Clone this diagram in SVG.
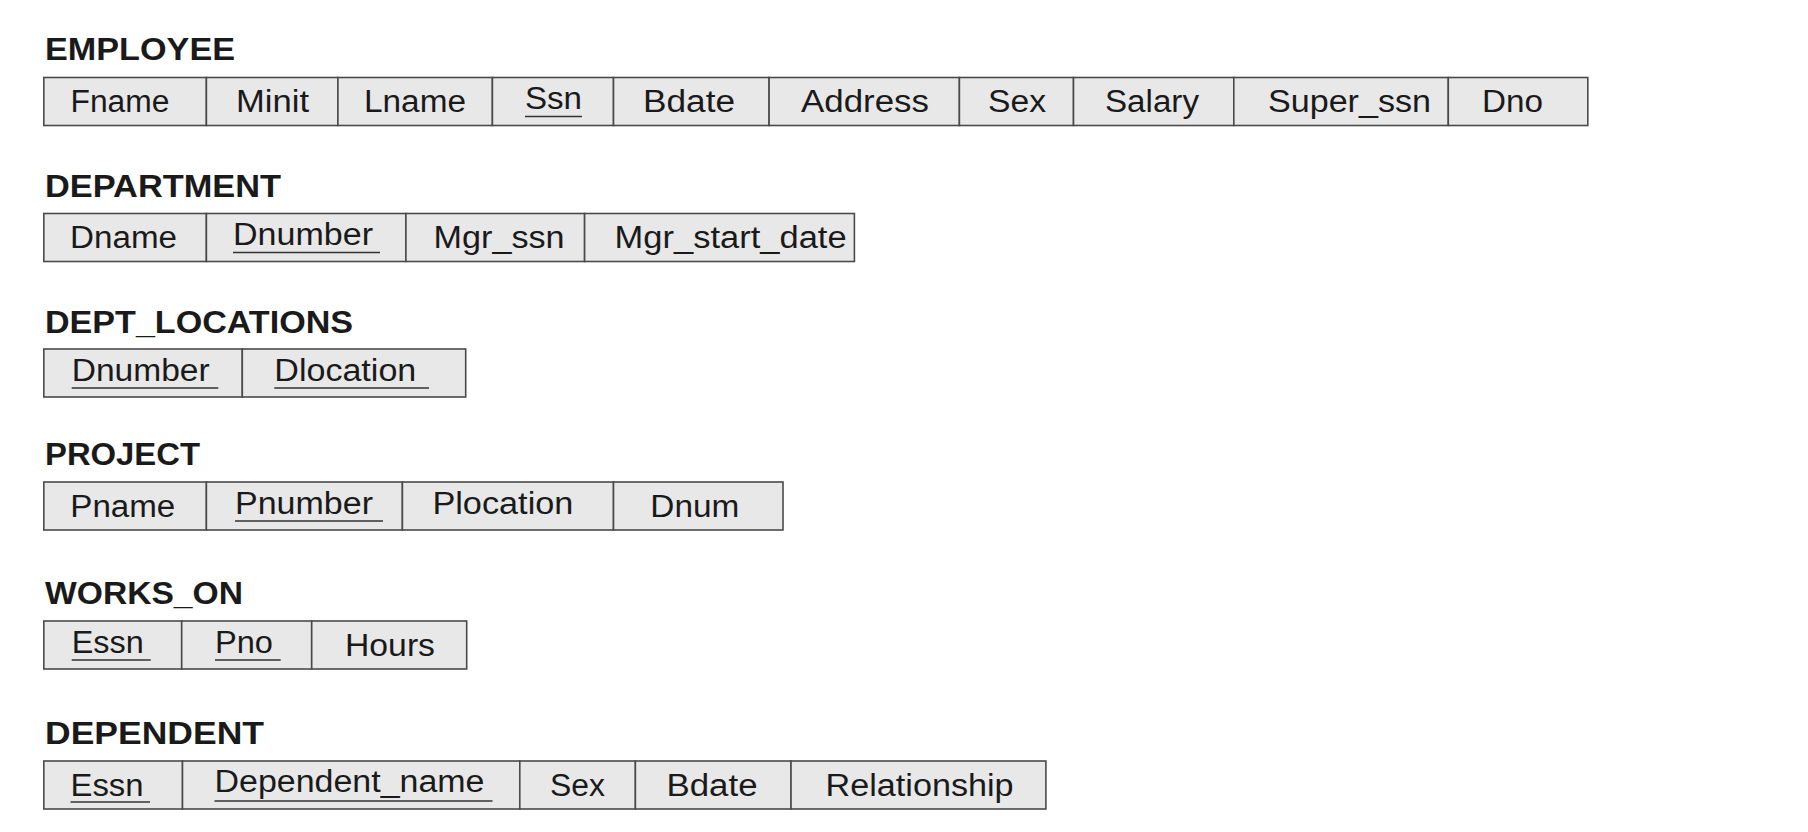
<svg xmlns="http://www.w3.org/2000/svg" width="1808" height="832" viewBox="0 0 1808 832">
<style>
.bg{fill:#ffffff}
.title{font-family:"Liberation Sans",Arial,sans-serif;font-weight:bold;font-size:31px;fill:#1a1a1a}
.cell{fill:#e8e8e8;stroke:#4a4a4a;stroke-width:1.6}
.f{font-family:"Liberation Sans",Arial,sans-serif;font-size:31px;fill:#1a1a1a}
.ul{stroke:#333;stroke-width:1.6}
</style>
<rect class="bg" x="0" y="0" width="1808" height="832"/>

<g id="employee">
<text class="title" x="45" y="60" textLength="190" lengthAdjust="spacingAndGlyphs">EMPLOYEE</text>
<rect class="cell" x="43.8" y="77.5" width="162.6" height="48"/>
<rect class="cell" x="206.4" y="77.5" width="131.5" height="48"/>
<rect class="cell" x="337.9" y="77.5" width="154.5" height="48"/>
<rect class="cell" x="492.4" y="77.5" width="121.1" height="48"/>
<rect class="cell" x="613.5" y="77.5" width="155.6" height="48"/>
<rect class="cell" x="769.1" y="77.5" width="190.3" height="48"/>
<rect class="cell" x="959.4" y="77.5" width="114.1" height="48"/>
<rect class="cell" x="1073.5" y="77.5" width="160.3" height="48"/>
<rect class="cell" x="1233.8" y="77.5" width="214.5" height="48"/>
<rect class="cell" x="1448.3" y="77.5" width="139.5" height="48"/>
<text class="f" x="70.5" y="112" textLength="99" lengthAdjust="spacingAndGlyphs">Fname</text>
<text class="f" x="236" y="112" textLength="73" lengthAdjust="spacingAndGlyphs">Minit</text>
<text class="f" x="364" y="112" textLength="102" lengthAdjust="spacingAndGlyphs">Lname</text>
<text class="f" x="525" y="109" textLength="57" lengthAdjust="spacingAndGlyphs">Ssn</text>
<line class="ul" x1="525" y1="116.5" x2="582" y2="116.5"/>
<text class="f" x="643" y="112" textLength="92" lengthAdjust="spacingAndGlyphs">Bdate</text>
<text class="f" x="801" y="112" textLength="128" lengthAdjust="spacingAndGlyphs">Address</text>
<text class="f" x="988" y="112" textLength="58" lengthAdjust="spacingAndGlyphs">Sex</text>
<text class="f" x="1105" y="112" textLength="94" lengthAdjust="spacingAndGlyphs">Salary</text>
<text class="f" x="1268" y="112" textLength="163" lengthAdjust="spacingAndGlyphs">Super_ssn</text>
<text class="f" x="1482" y="112" textLength="61" lengthAdjust="spacingAndGlyphs">Dno</text>
</g>

<g id="department">
<text class="title" x="45" y="196.5" textLength="236" lengthAdjust="spacingAndGlyphs">DEPARTMENT</text>
<rect class="cell" x="43.8" y="213.5" width="162.6" height="48"/>
<rect class="cell" x="206.4" y="213.5" width="199.5" height="48"/>
<rect class="cell" x="405.9" y="213.5" width="178.7" height="48"/>
<rect class="cell" x="584.6" y="213.5" width="269.8" height="48"/>
<text class="f" x="70" y="248" textLength="107" lengthAdjust="spacingAndGlyphs">Dname</text>
<text class="f" x="233" y="245" textLength="140" lengthAdjust="spacingAndGlyphs">Dnumber</text>
<line class="ul" x1="233" y1="252.5" x2="380" y2="252.5"/>
<text class="f" x="433.6" y="248" textLength="131" lengthAdjust="spacingAndGlyphs">Mgr_ssn</text>
<text class="f" x="614.6" y="248" textLength="232" lengthAdjust="spacingAndGlyphs">Mgr_start_date</text>
</g>

<g id="dept_locations">
<text class="title" x="45" y="332.5" textLength="308" lengthAdjust="spacingAndGlyphs">DEPT_LOCATIONS</text>
<rect class="cell" x="43.8" y="349" width="198.5" height="48"/>
<rect class="cell" x="242.3" y="349" width="223.4" height="48"/>
<text class="f" x="71.7" y="381" textLength="138" lengthAdjust="spacingAndGlyphs">Dnumber</text>
<line class="ul" x1="71.7" y1="388" x2="218.3" y2="388"/>
<text class="f" x="274.3" y="381" textLength="142" lengthAdjust="spacingAndGlyphs">Dlocation</text>
<line class="ul" x1="274.3" y1="388" x2="429" y2="388"/>
</g>

<g id="project">
<text class="title" x="45" y="465" textLength="155" lengthAdjust="spacingAndGlyphs">PROJECT</text>
<rect class="cell" x="43.8" y="482" width="162.6" height="48"/>
<rect class="cell" x="206.4" y="482" width="196" height="48"/>
<rect class="cell" x="402.4" y="482" width="211.1" height="48"/>
<rect class="cell" x="613.5" y="482" width="169.5" height="48"/>
<text class="f" x="70.3" y="516.5" textLength="105" lengthAdjust="spacingAndGlyphs">Pname</text>
<text class="f" x="235" y="513.5" textLength="138" lengthAdjust="spacingAndGlyphs">Pnumber</text>
<line class="ul" x1="235" y1="521" x2="383" y2="521"/>
<text class="f" x="432.4" y="513.5" textLength="141" lengthAdjust="spacingAndGlyphs">Plocation</text>
<text class="f" x="650.3" y="516.5" textLength="89" lengthAdjust="spacingAndGlyphs">Dnum</text>
</g>

<g id="works_on">
<text class="title" x="45" y="604" textLength="198" lengthAdjust="spacingAndGlyphs">WORKS_ON</text>
<rect class="cell" x="43.8" y="621" width="137.9" height="48"/>
<rect class="cell" x="181.7" y="621" width="130" height="48"/>
<rect class="cell" x="311.7" y="621" width="155" height="48"/>
<text class="f" x="71.7" y="652.5" textLength="72" lengthAdjust="spacingAndGlyphs">Essn</text>
<line class="ul" x1="71.7" y1="660" x2="150.7" y2="660"/>
<text class="f" x="215" y="652.5" textLength="58" lengthAdjust="spacingAndGlyphs">Pno</text>
<line class="ul" x1="215" y1="660" x2="280.7" y2="660"/>
<text class="f" x="345" y="655.5" textLength="90" lengthAdjust="spacingAndGlyphs">Hours</text>
</g>

<g id="dependent">
<text class="title" x="45" y="744" textLength="219" lengthAdjust="spacingAndGlyphs">DEPENDENT</text>
<rect class="cell" x="43.8" y="761" width="138.7" height="48"/>
<rect class="cell" x="182.5" y="761" width="337.3" height="48"/>
<rect class="cell" x="519.8" y="761" width="115.6" height="48"/>
<rect class="cell" x="635.4" y="761" width="155.6" height="48"/>
<rect class="cell" x="791" y="761" width="254.9" height="48"/>
<text class="f" x="70.5" y="796" textLength="73" lengthAdjust="spacingAndGlyphs">Essn</text>
<line class="ul" x1="70.5" y1="802" x2="150" y2="802"/>
<text class="f" x="214.5" y="792" textLength="270" lengthAdjust="spacingAndGlyphs">Dependent_name</text>
<line class="ul" x1="214.5" y1="801" x2="492.5" y2="801"/>
<text class="f" x="550" y="796" textLength="55" lengthAdjust="spacingAndGlyphs">Sex</text>
<text class="f" x="666.5" y="796" textLength="91" lengthAdjust="spacingAndGlyphs">Bdate</text>
<text class="f" x="825.6" y="796" textLength="188" lengthAdjust="spacingAndGlyphs">Relationship</text>
</g>
</svg>
